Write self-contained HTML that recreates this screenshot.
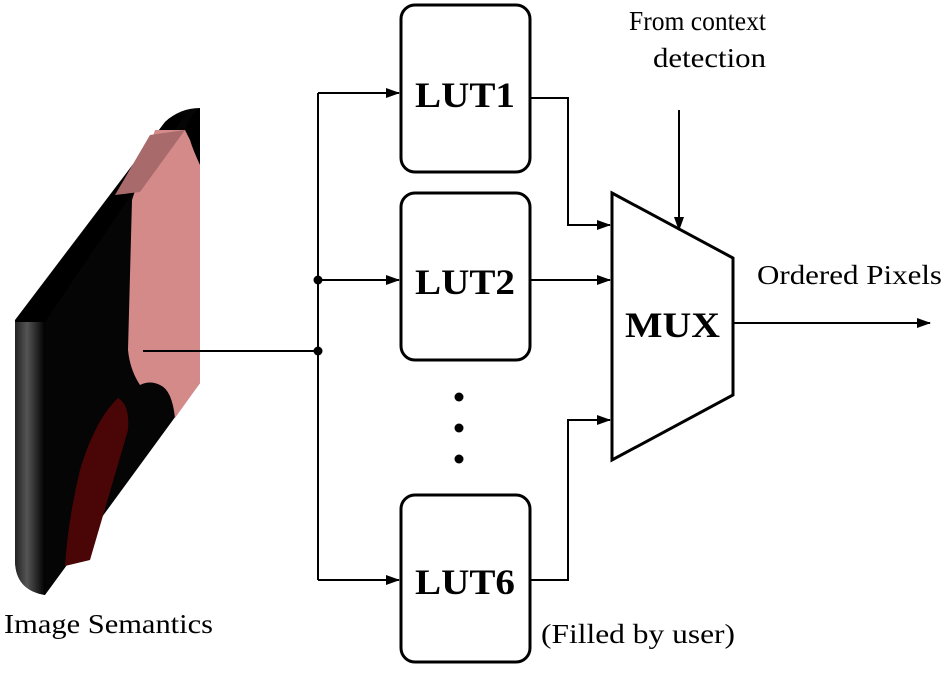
<!DOCTYPE html>
<html><head><style>body{margin:0;background:#fff}</style></head><body>
<svg width="945" height="678" viewBox="0 0 945 678" xmlns="http://www.w3.org/2000/svg" font-family="Liberation Serif, serif">
<defs>
<marker id="a" markerWidth="14" markerHeight="10" refX="13" refY="5" orient="auto" markerUnits="userSpaceOnUse"><path d="M0,0 L14,5 L0,10 z" fill="#000"/></marker>
<linearGradient id="g" x1="0" x2="1"><stop offset="0" stop-color="#222"/><stop offset="0.4" stop-color="#555"/><stop offset="1" stop-color="#000"/></linearGradient>
</defs>
<path d="M15,320 L165,122 Q180,108 200,108 L200,383 L45,595 Q15,590 15,560 Z" fill="#050505"/>
<path d="M15,322 L45,322 L45,595 Q15,590 15,560 Z" fill="url(#g)"/>
<path d="M45,322 L15,322 L165,122 Q175,112 185,115 Z" fill="#000"/>
<path d="M155,130 L185,130 L200,108 L200,383 L175,418 Q172,390 160,385 Q150,380 140,385 Q130,370 128,350 L132,200 Z" fill="#d58a8a"/>
<path d="M185,130 Q192,112 200,108 L200,165 Q193,150 190,140 Z" fill="#000"/>
<path d="M150,135 L185,130 L140,192 L115,195 Z" fill="#a86a6a"/>
<path d="M118,398 Q130,405 128,430 L90,560 L65,566 Q68,520 80,470 Q95,420 118,398 Z" fill="#4a0606"/>
<line x1="143" y1="351" x2="318" y2="351" stroke="#000" stroke-width="2"/>
<line x1="318" y1="93" x2="318" y2="580" stroke="#000" stroke-width="2"/>
<circle cx="318" cy="280" r="4.5"/><circle cx="318" cy="351" r="4.5"/>
<g stroke="#000" stroke-width="2" fill="none">
<line x1="318" y1="93" x2="399" y2="93" marker-end="url(#a)"/>
<line x1="318" y1="280" x2="399" y2="280" marker-end="url(#a)"/>
<line x1="318" y1="580" x2="399" y2="580" marker-end="url(#a)"/>
<rect x="401" y="5" width="129" height="167" rx="14" stroke-width="3"/>
<rect x="401" y="193" width="129" height="167" rx="14" stroke-width="3"/>
<rect x="401" y="495" width="129" height="167" rx="14" stroke-width="3"/>
<path d="M530,98 H568 V225 H610" marker-end="url(#a)"/>
<line x1="530" y1="280" x2="610" y2="280" marker-end="url(#a)"/>
<path d="M530,580 H568 V420 H610" marker-end="url(#a)"/>
<line x1="679" y1="110" x2="679" y2="230" marker-end="url(#a)"/>
<path d="M612,193 L733,258 L733,395 L612,460 Z" stroke-width="3"/>
<line x1="733" y1="323" x2="930" y2="323" marker-end="url(#a)"/>
</g>
<circle cx="459" cy="397" r="4.5"/><circle cx="459" cy="428" r="4.5"/><circle cx="459" cy="459" r="4.5"/>
<g font-weight="bold" font-size="36">
<text x="415" y="107" textLength="100" lengthAdjust="spacingAndGlyphs">LUT1</text>
<text x="415" y="294" textLength="100" lengthAdjust="spacingAndGlyphs">LUT2</text>
<text x="415" y="594" textLength="100" lengthAdjust="spacingAndGlyphs">LUT6</text>
<text x="625" y="337" textLength="95" lengthAdjust="spacingAndGlyphs">MUX</text>
</g>
<g font-size="27">
<text x="629" y="30" textLength="137" lengthAdjust="spacingAndGlyphs">From context</text>
<text x="653" y="67" textLength="113" lengthAdjust="spacingAndGlyphs">detection</text>
<text x="757" y="284" textLength="185" lengthAdjust="spacingAndGlyphs">Ordered Pixels</text>
<text x="4" y="633" textLength="209" lengthAdjust="spacingAndGlyphs">Image Semantics</text>
<text x="541" y="643" textLength="194" lengthAdjust="spacingAndGlyphs">(Filled by user)</text>
</g>
</svg>
</body></html>
